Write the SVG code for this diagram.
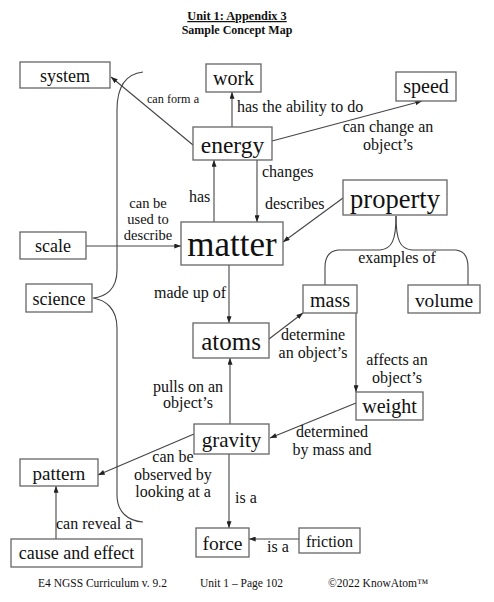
<svg xmlns="http://www.w3.org/2000/svg" width="494" height="602" viewBox="0 0 494 602">
<style>
text{font-family:"Liberation Serif","Times New Roman",serif;fill:#111}
.box{fill:#fff;stroke:#666;stroke-width:1.3}
.ln{fill:none;stroke:#444;stroke-width:1.1}
.c{text-anchor:middle}
.lb{font-size:16px}
</style>
<defs>
<marker id="ah" viewBox="0 0 8 6" refX="8" refY="3" markerWidth="7" markerHeight="5" markerUnits="userSpaceOnUse" orient="auto">
<path d="M0,0 L8,3 L0,6 z" fill="#222"/>
</marker>
</defs>
<rect width="494" height="602" fill="#fff"/>
<g id="title">
<text x="237" y="20" class="c" font-size="12.3" font-weight="bold" text-decoration="underline">Unit 1: Appendix 3</text>
<text x="237" y="34" class="c" font-size="12" font-weight="bold">Sample Concept Map</text>
</g>
<g id="connectors">
<path class="ln" d="M143,72 C125,74 117,88 117,110 L117,270 C117,290 105,297 93,298 C105,300 117,308 117,328 L117,495 C117,512 128,521 143,522"/>
<path class="ln" d="M396,216 C396,240 392,249 380,250 L338,250 C330,251 325,256 325,267 L325,285"/>
<path class="ln" d="M396,216 C396,240 400,249 412,250 L456,250 C464,251 468,256 468,267 L468,285"/>
<line class="ln" x1="193" y1="145" x2="111" y2="77" marker-end="url(#ah)"/>
<line class="ln" x1="232" y1="127" x2="232" y2="92" marker-end="url(#ah)"/>
<line class="ln" x1="272" y1="141" x2="422" y2="101" marker-end="url(#ah)"/>
<line class="ln" x1="214" y1="222" x2="214" y2="160" marker-end="url(#ah)"/>
<line class="ln" x1="257" y1="160" x2="257" y2="222" marker-end="url(#ah)"/>
<line class="ln" x1="343" y1="198" x2="283" y2="242" marker-end="url(#ah)"/>
<line class="ln" x1="86" y1="246" x2="181" y2="246" marker-end="url(#ah)"/>
<line class="ln" x1="229" y1="265" x2="229" y2="323" marker-end="url(#ah)"/>
<line class="ln" x1="269" y1="339" x2="303" y2="313" marker-end="url(#ah)"/>
<line class="ln" x1="356" y1="313" x2="356" y2="392" marker-end="url(#ah)"/>
<line class="ln" x1="356" y1="403" x2="270" y2="438" marker-end="url(#ah)"/>
<line class="ln" x1="230" y1="424" x2="230" y2="358" marker-end="url(#ah)"/>
<line class="ln" x1="194" y1="434" x2="98" y2="475" marker-end="url(#ah)"/>
<line class="ln" x1="229" y1="454" x2="229" y2="528" marker-end="url(#ah)"/>
<line class="ln" x1="299" y1="539" x2="249" y2="539" marker-end="url(#ah)"/>
<line class="ln" x1="56" y1="539" x2="56" y2="486" marker-end="url(#ah)"/>
</g>
<g id="labels">
<text x="173" y="103" class="c" font-size="12.2">can form a</text>
<text x="237" y="112" class="lb">has the ability to do</text>
<text x="388" y="132" class="c lb">can change an</text>
<text x="388" y="150" class="c lb">object’s</text>
<text x="262" y="177" class="lb">changes</text>
<text x="265" y="209" class="lb">describes</text>
<text x="189" y="202" class="lb">has</text>
<text x="148" y="208" class="c" font-size="14.5">can be</text>
<text x="148" y="224" class="c" font-size="14.5">used to</text>
<text x="148" y="240" class="c" font-size="14.5">describe</text>
<text x="154" y="298" class="lb">made up of</text>
<text x="397" y="263" class="c lb">examples of</text>
<text x="313" y="340" class="c lb">determine</text>
<text x="313" y="358" class="c lb">an object’s</text>
<text x="397" y="365" class="c lb">affects an</text>
<text x="397" y="383" class="c lb">object’s</text>
<text x="188" y="392" class="c lb">pulls on an</text>
<text x="188" y="408" class="c lb">object’s</text>
<text x="332" y="437" class="c lb">determined</text>
<text x="332" y="455" class="c lb">by mass and</text>
<text x="173" y="462" class="c lb">can be</text>
<text x="173" y="480" class="c lb">observed by</text>
<text x="173" y="497" class="c lb">looking at a</text>
<text x="235" y="503" class="lb">is a</text>
<text x="267" y="552" class="lb">is a</text>
<text x="56" y="529" class="lb">can reveal a</text>
</g>
<g id="system"><rect class="box" x="20" y="62" width="90" height="26"/><text x="65" y="82" class="c" font-size="18">system</text></g>
<g id="work"><rect class="box" x="206" y="64" width="55" height="28"/><text x="233.5" y="85" class="c" font-size="20">work</text></g>
<g id="speed"><rect class="box" x="396" y="72" width="60" height="29"/><text x="426" y="93" class="c" font-size="20">speed</text></g>
<g id="energy"><rect class="box" x="193" y="127" width="79" height="33"/><text x="232.5" y="153" class="c" font-size="23.5">energy</text></g>
<g id="matter"><rect class="box" x="181" y="222" width="102" height="43"/><text x="232" y="256" class="c" font-size="35">matter</text></g>
<g id="property"><rect class="box" x="343" y="180" width="104" height="35"/><text x="395" y="208" class="c" font-size="26.5">property</text></g>
<g id="scale"><rect class="box" x="20" y="232" width="66" height="27"/><text x="53" y="252" class="c" font-size="18">scale</text></g>
<g id="science"><rect class="box" x="26" y="284" width="66" height="28"/><text x="59" y="305" class="c" font-size="18">science</text></g>
<g id="mass"><rect class="box" x="303" y="285" width="54" height="28"/><text x="330" y="307" class="c" font-size="20">mass</text></g>
<g id="volume"><rect class="box" x="408" y="285" width="72" height="28"/><text x="444" y="307" class="c" font-size="19.4">volume</text></g>
<g id="atoms"><rect class="box" x="193" y="323" width="76" height="35"/><text x="231" y="350" class="c" font-size="25">atoms</text></g>
<g id="weight"><rect class="box" x="356" y="392" width="67" height="28"/><text x="389.5" y="413" class="c" font-size="20">weight</text></g>
<g id="gravity"><rect class="box" x="194" y="424" width="75" height="30"/><text x="231.5" y="447" class="c" font-size="21">gravity</text></g>
<g id="pattern"><rect class="box" x="20" y="459" width="78" height="27"/><text x="59" y="480" class="c" font-size="19">pattern</text></g>
<g id="cause-and-effect"><rect class="box" x="11" y="539" width="131" height="28"/><text x="76.5" y="559" class="c" font-size="18">cause and effect</text></g>
<g id="force"><rect class="box" x="196" y="528" width="53" height="29"/><text x="222.5" y="550" class="c" font-size="19.5">force</text></g>
<g id="friction"><rect class="box" x="299" y="528" width="61" height="25"/><text x="329.5" y="547" class="c" font-size="16">friction</text></g>
<g id="footer">
<text x="38" y="587" font-size="11.5">E4 NGSS Curriculum v. 9.2</text>
<text x="200" y="587" font-size="11.5">Unit 1 – Page 102</text>
<text x="328" y="587" font-size="11.5">©2022 KnowAtom™</text>
</g>
</svg>
